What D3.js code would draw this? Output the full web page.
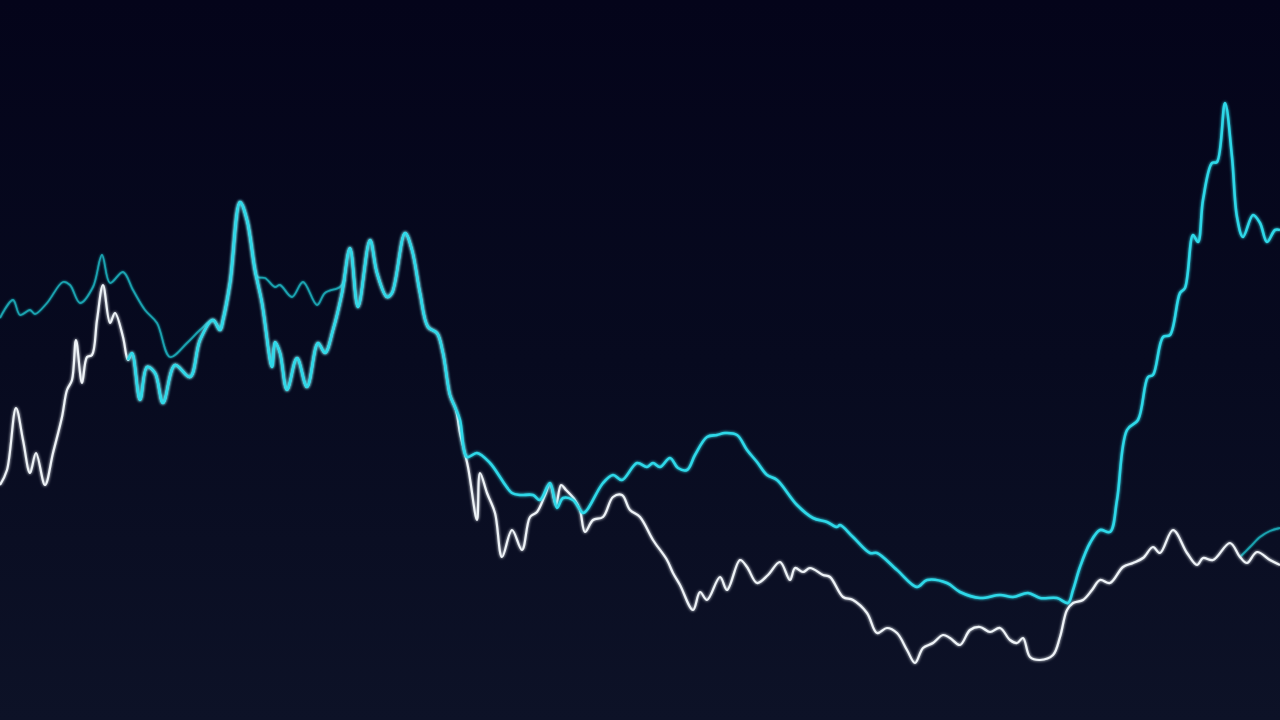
<!DOCTYPE html>
<html><head><meta charset="utf-8">
<script src="https://cdn.jsdelivr.net/npm/d3@7"></script>
<style>html,body{margin:0;padding:0;background:#060719;overflow:hidden}</style>
</head><body>
<svg id="chart" width="1280" height="720"></svg>
<script>
// [time index, value]
const whiteSeries = [[0,235],[7,250],[16,312],[23,280],[30,247],[36,267],[45,235],[53,267],[62,303],[67,330],[72,340],[76,380],[82,337],[87,363],[92,365],[97,400],[103,435],[110,397],[115,407],[123,383],[128,360],[132,367],[140,320],[147,353],[155,347],[163,317],[175,355],[190,343],[200,380],[213,400],[220,390],[223,400],[230,437],[240,518],[247,500],[255,450],[262,417],[272,353],[275,378],[280,367],[287,330],[297,362],[307,333],[318,377],[325,367],[333,390],[342,427],[350,472],[358,413],[370,480],[377,447],[387,423],[392,427],[405,487],[412,470],[420,427],[428,393],[437,387],[443,367],[450,325],[456,310],[460,287],[468,253],[477,200],[480,247],[487,227],[495,207],[502,163],[512,190],[522,170],[530,203],[537,208],[545,225],[550,236],[556,215],[561,235],[566,230],[575,220],[580,210],[585,188],[593,200],[603,203],[613,223],[622,225],[630,210],[640,203],[653,180],[667,160],[673,147],[680,135],[693,110],[700,128],[707,120],[720,143],[727,130],[740,160],[747,153],[757,137],[768,145],[780,158],[790,140],[795,152],[803,148],[810,152],[823,145],[830,143],[843,123],[853,120],[867,107],[877,87],[887,92],[897,87],[907,70],[915,57],[923,72],[933,77],[943,85],[950,82],[960,75],[970,90],[980,93],[990,88],[1000,92],[1010,80],[1017,77],[1023,82],[1030,63],[1040,60],[1053,65],[1060,83],[1067,110],[1073,117],[1083,120],[1092,130],[1100,140],[1110,137],[1123,153],[1133,157],[1143,162],[1153,173],[1160,167],[1173,190],[1187,167],[1197,155],[1203,162],[1213,160],[1230,177],[1240,163],[1247,157],[1257,168],[1270,160],[1280,155]];

const cyanSeries = [[128,360],[132,367],[140,320],[147,353],[155,347],[163,317],[175,355],[190,343],[200,380],[213,400],[220,390],[223,400],[230,437],[240,518],[247,500],[255,450],[262,417],[272,353],[275,378],[280,367],[287,330],[297,362],[307,333],[318,377],[325,367],[333,390],[342,427],[350,472],[358,413],[370,480],[377,447],[387,423],[392,427],[405,487],[412,470],[420,427],[428,393],[437,387],[443,367],[450,325],[455,313],[460,300],[467,263],[477,267],[490,257],[512,227],[520,225],[533,225],[540,220],[550,237],[557,212],[563,222],[573,220],[583,207],[587,210],[603,237],[613,245],[622,240],[637,257],[647,253],[653,257],[660,253],[670,262],[678,252],[687,250],[695,265],[707,283],[717,285],[725,287],[737,285],[747,270],[757,258],[767,245],[777,240],[797,215],[813,202],[827,198],[837,193],[840,195],[853,183],[870,167],[877,167],[897,150],[917,133],[927,140],[947,137],[960,128],[980,122],[1000,125],[1013,123],[1028,127],[1040,122],[1057,122],[1068,117],[1073,130],[1080,153],[1090,177],[1100,190],[1110,188],[1117,220],[1127,290],[1138,300],[1148,343],[1153,345],[1163,383],[1170,385],[1180,427],[1185,432],[1193,485],[1198,478],[1203,520],[1212,557],[1217,558],[1225,617],[1232,563],[1237,503],[1243,483],[1253,505],[1260,497],[1267,478],[1275,490],[1280,490]];

const tealSeries = [[0,402],[13,420],[20,405],[30,410],[35,406],[47,417],[63,438],[70,435],[80,417],[93,433],[102,465],[110,437],[123,448],[133,430],[145,410],[157,397],[170,363],[187,377],[200,390],[213,400],[220,390],[223,400],[230,437],[240,518],[247,500],[255,450],[257,443],[265,442],[275,433],[280,435],[292,423],[303,438],[317,415],[325,427],[340,433],[345,440],[350,null],[1240,163],[1250,173],[1260,183],[1270,189],[1280,192]];

const W = 1280, H = 720;
const svg = d3.select("#chart");
const x = d3.scaleLinear().domain([0, 1280]).range([0, W]);
const y = d3.scaleLinear().domain([0, 720]).range([H, 0]);

const defs = svg.append("defs");
const bg = defs.append("linearGradient").attr("id","bg").attr("x1",0).attr("y1",0).attr("x2",0).attr("y2",1);
bg.append("stop").attr("offset","0%").attr("stop-color","#04041a");
bg.append("stop").attr("offset","50%").attr("stop-color","#070a1f");
bg.append("stop").attr("offset","100%").attr("stop-color","#0d1227");

function glow(id, sd) {
  const f = defs.append("filter").attr("id", id).attr("x","-10%").attr("y","-10%").attr("width","120%").attr("height","120%");
  f.append("feGaussianBlur").attr("in","SourceGraphic").attr("stdDeviation", sd).attr("result","b");
  const m = f.append("feMerge");
  m.append("feMergeNode").attr("in","b");
  m.append("feMergeNode").attr("in","SourceGraphic");
}
glow("glowC", 1.6);
glow("glowW", 1.4);
glow("glowT", 1);

svg.append("rect").attr("width", W).attr("height", H).attr("fill", "url(#bg)");

const line = d3.line()
  .defined(d => d[1] !== null)
  .x(d => x(d[0])).y(d => y(d[1]))
  .curve(d3.curveCatmullRom.alpha(0.5));

svg.append("path").datum(tealSeries).attr("d", line)
  .attr("fill","none").attr("stroke","#1aa3b0").attr("stroke-width",1.8)
  .attr("stroke-linejoin","round").attr("filter","url(#glowT)");
svg.append("path").datum(whiteSeries).attr("d", line)
  .attr("fill","none").attr("stroke","#eef3f7").attr("stroke-width",2.2)
  .attr("stroke-linejoin","round").attr("filter","url(#glowW)");
svg.append("path").datum(cyanSeries).attr("d", line)
  .attr("fill","none").attr("stroke","#2fd8e8").attr("stroke-width",2.6)
  .attr("stroke-linejoin","round").attr("filter","url(#glowC)");
</script>
</body></html>
